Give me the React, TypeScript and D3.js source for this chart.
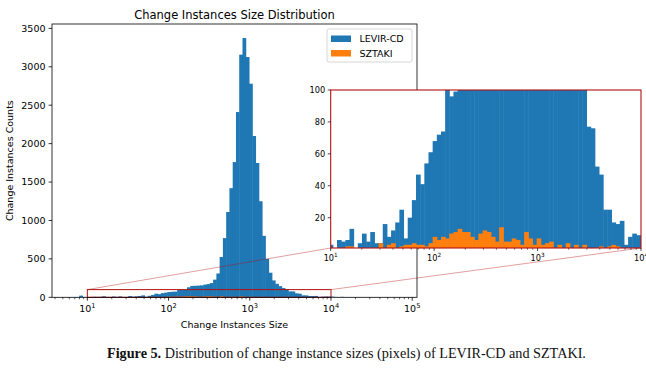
import React, { useEffect } from 'react';
import * as d3 from 'd3';

// histogram counts per log-spaced bin (100 bins)
const levirCounts = [
  2, 3, 4, 22, 5, 3, 1, 6, 5, 6,
  13, 1, 4, 10, 5, 11, 4, 4, 16, 8,
  12, 17, 25, 7, 20, 31, 47, 41, 54, 61,
  68, 72, 74, 104, 96, 99, 130, 148, 150, 152,
  155, 165, 172, 185, 230, 310, 525, 770, 1110, 1420,
  1760, 2411, 3158, 3374, 3127, 2780, 2099, 1748, 1250, 800,
  500, 320, 220, 175, 145, 120, 105, 77, 76, 52,
  47, 25, 25, 17, 16, 18, 3, 8, 10, 9,
  9, 5, 4, 6, 3, 2, 2, 1, 1, 0,
  1, 0, 0, 1, 0, 0, 0, 0, 0, 1,
];

const sztakiCounts = [
  0, 0, 0, 0, 0, 0, 1, 1, 0, 2,
  2, 1, 0, 1, 0, 1, 1, 4, 0, 3,
  4, 1, 2, 3, 3, 4, 3, 3, 2, 4,
  8, 6, 8, 7, 10, 11, 13, 11, 11, 8,
  6, 10, 12, 11, 8, 5, 14, 5, 5, 7,
  6, 3, 11, 7, 3, 7, 3, 4, 5, 1,
  3, 0, 4, 0, 3, 0, 3, 0, 1, 0,
  2, 0, 2, 3, 2, 0, 0, 0, 1, 0,
  0, 0, 0, 0, 0, 0, 0, 0, 0, 0,
  0, 0, 0, 0, 0, 0, 0, 0, 0, 0,
];

const seriesNames = ['LEVIR-CD', 'SZTAKI'];
const binLogMin = 0.7796;
const binLogMax = 4.8;
const yTicks = [0, 500, 1000, 1500, 2000, 2500, 3000, 3500];
const xTickExps = [1, 2, 3, 4, 5];
const insetYTicks = [20, 40, 60, 80, 100];
const insetXTickExps = [1, 2, 3, 4];

const BLUE = '#1f77b4';
const ORANGE = '#ff7f0e';
const RED = '#b40f0f';
const FONT = 'DejaVu Sans';

const edges = d3.range(levirCounts.length + 1).map(
  (i) => Math.pow(10, binLogMin + (i * (binLogMax - binLogMin)) / levirCounts.length)
);

const Pow10 = ({ x, y, e, size }: { x: number; y: number; e: number; size: number }) => (
  <text x={x} y={y} textAnchor="middle" fontSize={size} fontFamily={FONT} fill="#000">
    10
    <tspan dy={-size * 0.45} fontSize={size * 0.7}>
      {e}
    </tspan>
  </text>
);

const minorTicks = (lo: number, hi: number) => {
  const out: number[] = [];
  for (let p = Math.floor(Math.log10(lo)); p <= Math.ceil(Math.log10(hi)); p++) {
    for (let m = 2; m <= 9; m++) {
      const v = m * Math.pow(10, p);
      if (v >= lo && v <= hi) out.push(v);
    }
  }
  return out;
};

const App = () => {
  useEffect(() => {
    document.body.style.margin = '0';
  }, []);

  // main axes
  const m = { left: 52, right: 417, top: 24, bottom: 297.3 };
  const x = d3.scaleLog().domain([Math.pow(10, 0.565), Math.pow(10, 5.059)]).range([m.left, m.right]);
  const y = d3.scaleLinear().domain([0, 3557]).range([m.bottom, m.top]);

  // inset axes
  const ins = { left: 330.7, right: 641, top: 90, bottom: 248 };
  const xi = d3.scaleLog().domain([10, 10000]).range([ins.left, ins.right]);
  const yi = d3.scaleLinear().domain([1, 100]).range([ins.bottom, ins.top]);

  // bars overlap a hair so no white seams show between neighbours
  const bars = (
    counts: number[],
    xs: d3.ScaleLogarithmic<number, number>,
    ys: d3.ScaleLinear<number, number>,
    color: string,
    base: number
  ) =>
    counts.map((c, i) =>
      c > 0 ? (
        <rect
          key={i}
          x={xs(edges[i])}
          width={xs(edges[i + 1]) - xs(edges[i]) + 0.5}
          y={ys(c)}
          height={base - ys(c)}
          fill={color}
        />
      ) : null
    );

  const rectTop = y(100);

  return (
    <svg
      width={646}
      height={372}
      style={{ position: 'absolute', left: 0, top: 0, background: '#fff' }}
    >
      <defs>
        <clipPath id="mainClip">
          <rect x={m.left} y={m.top} width={m.right - m.left} height={m.bottom - m.top} />
        </clipPath>
        <clipPath id="insetClip">
          <rect x={ins.left} y={ins.top} width={ins.right - ins.left} height={ins.bottom - ins.top} />
        </clipPath>
      </defs>

      <rect width={646} height={372} fill="#fff" />

      {/* title */}
      <text x={(m.left + m.right) / 2} y={19} textAnchor="middle" fontSize={11.5} fontFamily={FONT}>
        Change Instances Size Distribution
      </text>

      {/* main bars */}
      <g clipPath="url(#mainClip)">
        {bars(levirCounts, x, y, BLUE, m.bottom)}
        {bars(sztakiCounts, x, y, ORANGE, m.bottom)}
      </g>

      {/* zoom indicator */}
      <rect
        x={x(10)}
        y={rectTop}
        width={x(10000) - x(10)}
        height={m.bottom - rectTop}
        fill="none"
        stroke={RED}
        strokeWidth={1}
      />
      <line x1={x(10)} y1={rectTop} x2={ins.left} y2={ins.bottom} stroke={RED} strokeOpacity={0.5} strokeWidth={0.8} />
      <line x1={x(10000)} y1={rectTop} x2={ins.right} y2={ins.bottom} stroke={RED} strokeOpacity={0.5} strokeWidth={0.8} />

      {/* main spines */}
      <rect
        x={m.left}
        y={m.top}
        width={m.right - m.left}
        height={m.bottom - m.top}
        fill="none"
        stroke="#000"
        strokeWidth={0.8}
      />

      {/* main y axis */}
      {yTicks.map((t) => (
        <g key={t}>
          <line x1={m.left - 3.4} x2={m.left} y1={y(t)} y2={y(t)} stroke="#000" strokeWidth={0.8} />
          <text x={m.left - 6.5} y={y(t)} dy="0.35em" textAnchor="end" fontSize={9.5} fontFamily={FONT}>
            {t}
          </text>
        </g>
      ))}

      {/* main x axis */}
      {minorTicks(x.domain()[0], x.domain()[1]).map((t) => (
        <line key={t} x1={x(t)} x2={x(t)} y1={m.bottom} y2={m.bottom + 2} stroke="#000" strokeWidth={0.6} />
      ))}
      {xTickExps.map((e) => (
        <g key={e}>
          <line x1={x(10 ** e)} x2={x(10 ** e)} y1={m.bottom} y2={m.bottom + 3.4} stroke="#000" strokeWidth={0.8} />
          <Pow10 x={x(10 ** e)} y={312} e={e} size={9.5} />
        </g>
      ))}

      <text x={(m.left + m.right) / 2} y={328} textAnchor="middle" fontSize={9.5} fontFamily={FONT}>
        Change Instances Size
      </text>
      <text
        transform={`translate(13,${(m.top + m.bottom) / 2}) rotate(-90)`}
        textAnchor="middle"
        fontSize={9.5}
        fontFamily={FONT}
      >
        Change Instances Counts
      </text>

      {/* legend */}
      <rect x={327} y={29} width={85} height={33} rx={2} fill="#fff" fillOpacity={0.8} stroke="#cccccc" strokeWidth={0.8} />
      {seriesNames.map((name, i) => (
        <g key={name}>
          <rect x={331} y={35.5 + i * 14.5} width={20} height={6.5} fill={i === 0 ? BLUE : ORANGE} />
          <text x={359.5} y={42 + i * 14.5} fontSize={9.5} fontFamily={FONT}>
            {name}
          </text>
        </g>
      ))}

      {/* inset */}
      <rect x={ins.left} y={ins.top} width={ins.right - ins.left} height={ins.bottom - ins.top} fill="#fff" />
      <g clipPath="url(#insetClip)">
        {bars(levirCounts, xi, yi, BLUE, ins.bottom)}
        {bars(sztakiCounts, xi, yi, ORANGE, ins.bottom)}
      </g>
      <rect
        x={ins.left}
        y={ins.top}
        width={ins.right - ins.left}
        height={ins.bottom - ins.top}
        fill="none"
        stroke={RED}
        strokeWidth={1.1}
      />
      {insetYTicks.map((t) => (
        <g key={t}>
          <line x1={ins.left - 3} x2={ins.left} y1={yi(t)} y2={yi(t)} stroke="#000" strokeWidth={0.7} />
          <text x={ins.left - 5.5} y={yi(t)} dy="0.35em" textAnchor="end" fontSize={8.2} fontFamily={FONT}>
            {t}
          </text>
        </g>
      ))}
      {minorTicks(10, 10000).map((t) => (
        <line key={t} x1={xi(t)} x2={xi(t)} y1={ins.bottom} y2={ins.bottom + 1.8} stroke="#000" strokeWidth={0.5} />
      ))}
      {insetXTickExps.map((e) => (
        <g key={e}>
          <line x1={xi(10 ** e)} x2={xi(10 ** e)} y1={ins.bottom} y2={ins.bottom + 3} stroke="#000" strokeWidth={0.7} />
          <Pow10 x={xi(10 ** e)} y={261} e={e} size={8.2} />
        </g>
      ))}

      {/* caption */}
      <text x={107} y={358} fontSize={14.2} fontFamily="Liberation Serif" fill="#111">
        <tspan fontWeight="bold">Figure 5.</tspan> Distribution of change instance sizes (pixels) of LEVIR-CD and SZTAKI.
      </text>
    </svg>
  );
};

export default App;
